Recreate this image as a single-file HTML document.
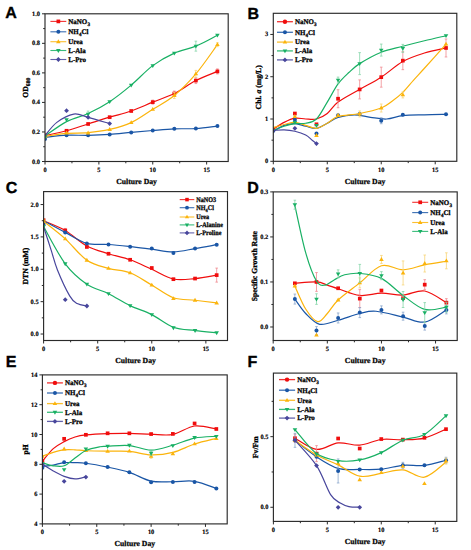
<!DOCTYPE html><html><head><meta charset="utf-8"><style>html,body{margin:0;padding:0;background:#fff;}svg{display:block;}text{text-rendering:geometricPrecision;}#w{width:471px;height:550px;overflow:hidden;}</style></head><body><div id="w">
<svg width="471" height="550" viewBox="0 0 471 550">
<rect width="471" height="550" fill="#fff"/>
<defs>
<clipPath id="cA"><rect x="45" y="13.8" width="183.2" height="147.7"/></clipPath>
<clipPath id="cB"><rect x="273.3" y="13.3" width="183.5" height="148"/></clipPath>
<clipPath id="cC"><rect x="43.6" y="191.6" width="183.9" height="148.9"/></clipPath>
<clipPath id="cD"><rect x="273.2" y="191.9" width="184" height="148.6"/></clipPath>
<clipPath id="cE"><rect x="42.4" y="374.9" width="184.8" height="149"/></clipPath>
<clipPath id="cF"><rect x="273.4" y="373.1" width="183.4" height="148.3"/></clipPath>
</defs>
<g clip-path="url(#cA)">
<path d="M45 135.65C48.59 134.84 59.37 132.72 66.55 130.78C73.74 128.83 80.92 126.25 88.11 123.98C95.29 121.72 102.47 119.36 109.66 117.19C116.84 115.02 124.03 113.5 131.21 110.99C138.4 108.48 145.58 105.03 152.76 102.12C159.95 99.22 167.13 97.15 174.32 93.56C181.5 89.96 188.69 84.25 195.87 80.56C203.05 76.87 213.83 72.93 217.42 71.4" fill="none" stroke="#f00d0d" stroke-width="1.2"/>
<path d="M152.76 100.12V104.12M151.46 100.12H154.06M151.46 104.12H154.06" stroke="#f08a90" stroke-width="0.8" fill="none"/>
<path d="M174.32 91.06V96.06M173.02 91.06H175.62M173.02 96.06H175.62" stroke="#f08a90" stroke-width="0.8" fill="none"/>
<path d="M195.87 77.56V83.56M194.57 77.56H197.17M194.57 83.56H197.17" stroke="#f08a90" stroke-width="0.8" fill="none"/>
<path d="M217.42 68.9V73.9M216.12 68.9H218.72M216.12 73.9H218.72" stroke="#f08a90" stroke-width="0.8" fill="none"/>
<rect x="43.15" y="133.36" width="3.7" height="3.7" fill="#f00d0d"/>
<rect x="64.7" y="128.93" width="3.7" height="3.7" fill="#f00d0d"/>
<rect x="86.26" y="122.13" width="3.7" height="3.7" fill="#f00d0d"/>
<rect x="107.81" y="115.34" width="3.7" height="3.7" fill="#f00d0d"/>
<rect x="129.36" y="109.14" width="3.7" height="3.7" fill="#f00d0d"/>
<rect x="150.91" y="100.27" width="3.7" height="3.7" fill="#f00d0d"/>
<rect x="172.47" y="91.71" width="3.7" height="3.7" fill="#f00d0d"/>
<rect x="194.02" y="78.71" width="3.7" height="3.7" fill="#f00d0d"/>
<rect x="215.57" y="69.55" width="3.7" height="3.7" fill="#f00d0d"/>
<path d="M45 137.42C48.59 137.06 59.37 135.55 66.55 135.21C73.74 134.86 80.92 135.48 88.11 135.36C95.29 135.23 102.47 134.96 109.66 134.47C116.84 133.98 124.03 133.07 131.21 132.4C138.4 131.74 145.58 131.07 152.76 130.48C159.95 129.89 167.13 129.18 174.32 128.86C181.5 128.54 188.69 129.03 195.87 128.56C203.05 128.1 213.83 126.47 217.42 126.05" fill="none" stroke="#1a56a6" stroke-width="1.2"/>
<circle cx="45" cy="138.9" r="2" fill="#1a56a6"/>
<circle cx="66.55" cy="135.21" r="2" fill="#1a56a6"/>
<circle cx="88.11" cy="135.36" r="2" fill="#1a56a6"/>
<circle cx="109.66" cy="134.47" r="2" fill="#1a56a6"/>
<circle cx="131.21" cy="132.4" r="2" fill="#1a56a6"/>
<circle cx="152.76" cy="130.48" r="2" fill="#1a56a6"/>
<circle cx="174.32" cy="128.86" r="2" fill="#1a56a6"/>
<circle cx="195.87" cy="128.56" r="2" fill="#1a56a6"/>
<circle cx="217.42" cy="126.05" r="2" fill="#1a56a6"/>
<path d="M45 136.39C48.59 135.9 59.37 134.05 66.55 133.44C73.74 132.82 80.92 133.36 88.11 132.7C95.29 132.03 102.47 131.12 109.66 129.45C116.84 127.78 124.03 126 131.21 122.65C138.4 119.31 145.58 113.89 152.76 109.36C159.95 104.83 167.13 101.39 174.32 95.48C181.5 89.57 188.69 82.38 195.87 73.91C203.05 65.45 213.83 49.54 217.42 44.67" fill="none" stroke="#fbb40c" stroke-width="1.2"/>
<path d="M174.32 92.48V98.48M173.02 92.48H175.62M173.02 98.48H175.62" stroke="#f7d67a" stroke-width="0.8" fill="none"/>
<path d="M195.87 70.41V77.41M194.57 70.41H197.17M194.57 77.41H197.17" stroke="#f7d67a" stroke-width="0.8" fill="none"/>
<path d="M217.42 42.67V46.67M216.12 42.67H218.72M216.12 46.67H218.72" stroke="#f7d67a" stroke-width="0.8" fill="none"/>
<path d="M45 133.99L47.28 137.83L42.72 137.83Z" fill="#fbb40c"/>
<path d="M66.55 130.59L68.83 134.43L64.27 134.43Z" fill="#fbb40c"/>
<path d="M88.11 130.59L90.39 134.43L85.83 134.43Z" fill="#fbb40c"/>
<path d="M109.66 127.05L111.94 130.89L107.38 130.89Z" fill="#fbb40c"/>
<path d="M131.21 120.25L133.49 124.09L128.93 124.09Z" fill="#fbb40c"/>
<path d="M152.76 106.96L155.04 110.8L150.48 110.8Z" fill="#fbb40c"/>
<path d="M174.32 93.08L176.6 96.92L172.04 96.92Z" fill="#fbb40c"/>
<path d="M195.87 71.51L198.15 75.35L193.59 75.35Z" fill="#fbb40c"/>
<path d="M217.42 42.27L219.7 46.11L215.14 46.11Z" fill="#fbb40c"/>
<path d="M45 135.95C48.59 133.56 59.37 125.36 66.55 121.62C73.74 117.88 80.92 116.82 88.11 113.5C95.29 110.17 102.47 106.41 109.66 101.68C116.84 96.96 124.03 91.15 131.21 85.14C138.4 79.13 145.58 70.98 152.76 65.64C159.95 60.3 167.13 56.34 174.32 53.09C181.5 49.84 188.69 49.12 195.87 46.15C203.05 43.17 213.83 37.04 217.42 35.22" fill="none" stroke="#19b064" stroke-width="1.2"/>
<path d="M88.11 111.09V117.09M86.81 111.09H89.41M86.81 117.09H89.41" stroke="#86d6aa" stroke-width="0.8" fill="none"/>
<path d="M195.87 41.15V51.15M194.57 41.15H197.17M194.57 51.15H197.17" stroke="#86d6aa" stroke-width="0.8" fill="none"/>
<path d="M45 139.53L47.28 135.69L42.72 135.69Z" fill="#19b064"/>
<path d="M66.55 122.1L68.83 118.26L64.27 118.26Z" fill="#19b064"/>
<path d="M88.11 116.49L90.39 112.65L85.83 112.65Z" fill="#19b064"/>
<path d="M109.66 104.08L111.94 100.24L107.38 100.24Z" fill="#19b064"/>
<path d="M131.21 87.54L133.49 83.7L128.93 83.7Z" fill="#19b064"/>
<path d="M152.76 68.04L155.04 64.2L150.48 64.2Z" fill="#19b064"/>
<path d="M174.32 55.49L176.6 51.65L172.04 51.65Z" fill="#19b064"/>
<path d="M195.87 48.55L198.15 44.71L193.59 44.71Z" fill="#19b064"/>
<path d="M217.42 37.62L219.7 33.78L215.14 33.78Z" fill="#19b064"/>
<path d="M45 135.65C46.98 133.44 52.06 125.95 56.85 122.36C61.65 118.77 68.56 114.93 73.77 114.09C78.98 113.25 82.12 115.76 88.11 117.34C94.09 118.91 106.07 122.51 109.66 123.54" fill="none" stroke="#48469c" stroke-width="1.2"/>
<path d="M66.55 108.29L68.95 110.69L66.55 113.09L64.15 110.69Z" fill="#48469c"/>
<path d="M88.11 114.94L90.51 117.34L88.11 119.74L85.71 117.34Z" fill="#48469c"/>
<path d="M109.66 121.14L112.06 123.54L109.66 125.94L107.26 123.54Z" fill="#48469c"/>
</g>
<rect x="45" y="13.8" width="183.2" height="147.7" fill="none" stroke="#2a2a2a" stroke-width="1.15"/>
<line x1="45" y1="161.5" x2="45" y2="164.5" stroke="#2a2a2a" stroke-width="1"/>
<text transform="translate(45 171.7) scale(0.97 1)" font-family='"Liberation Serif", serif' font-size="6.6" font-weight="bold" text-anchor="middle" stroke="#000" stroke-width="0.15" >0</text>
<line x1="98.88" y1="161.5" x2="98.88" y2="164.5" stroke="#2a2a2a" stroke-width="1"/>
<text transform="translate(98.88 171.7) scale(0.97 1)" font-family='"Liberation Serif", serif' font-size="6.6" font-weight="bold" text-anchor="middle" stroke="#000" stroke-width="0.15" >5</text>
<line x1="152.76" y1="161.5" x2="152.76" y2="164.5" stroke="#2a2a2a" stroke-width="1"/>
<text transform="translate(152.76 171.7) scale(0.97 1)" font-family='"Liberation Serif", serif' font-size="6.6" font-weight="bold" text-anchor="middle" stroke="#000" stroke-width="0.15" >10</text>
<line x1="206.65" y1="161.5" x2="206.65" y2="164.5" stroke="#2a2a2a" stroke-width="1"/>
<text transform="translate(206.65 171.7) scale(0.97 1)" font-family='"Liberation Serif", serif' font-size="6.6" font-weight="bold" text-anchor="middle" stroke="#000" stroke-width="0.15" >15</text>
<line x1="71.94" y1="161.5" x2="71.94" y2="163.3" stroke="#2a2a2a" stroke-width="1"/>
<line x1="125.82" y1="161.5" x2="125.82" y2="163.3" stroke="#2a2a2a" stroke-width="1"/>
<line x1="179.71" y1="161.5" x2="179.71" y2="163.3" stroke="#2a2a2a" stroke-width="1"/>
<line x1="42" y1="161.5" x2="45" y2="161.5" stroke="#2a2a2a" stroke-width="1"/>
<text transform="translate(40 163.5) scale(0.97 1)" font-family='"Liberation Serif", serif' font-size="6.6" font-weight="bold" text-anchor="end" stroke="#000" stroke-width="0.15" >0.0</text>
<line x1="42" y1="131.96" x2="45" y2="131.96" stroke="#2a2a2a" stroke-width="1"/>
<text transform="translate(40 133.96) scale(0.97 1)" font-family='"Liberation Serif", serif' font-size="6.6" font-weight="bold" text-anchor="end" stroke="#000" stroke-width="0.15" >0.2</text>
<line x1="42" y1="102.42" x2="45" y2="102.42" stroke="#2a2a2a" stroke-width="1"/>
<text transform="translate(40 104.42) scale(0.97 1)" font-family='"Liberation Serif", serif' font-size="6.6" font-weight="bold" text-anchor="end" stroke="#000" stroke-width="0.15" >0.4</text>
<line x1="42" y1="72.88" x2="45" y2="72.88" stroke="#2a2a2a" stroke-width="1"/>
<text transform="translate(40 74.88) scale(0.97 1)" font-family='"Liberation Serif", serif' font-size="6.6" font-weight="bold" text-anchor="end" stroke="#000" stroke-width="0.15" >0.6</text>
<line x1="42" y1="43.34" x2="45" y2="43.34" stroke="#2a2a2a" stroke-width="1"/>
<text transform="translate(40 45.34) scale(0.97 1)" font-family='"Liberation Serif", serif' font-size="6.6" font-weight="bold" text-anchor="end" stroke="#000" stroke-width="0.15" >0.8</text>
<line x1="42" y1="13.8" x2="45" y2="13.8" stroke="#2a2a2a" stroke-width="1"/>
<text transform="translate(40 15.8) scale(0.97 1)" font-family='"Liberation Serif", serif' font-size="6.6" font-weight="bold" text-anchor="end" stroke="#000" stroke-width="0.15" >1.0</text>
<line x1="43.2" y1="146.73" x2="45" y2="146.73" stroke="#2a2a2a" stroke-width="1"/>
<line x1="43.2" y1="117.19" x2="45" y2="117.19" stroke="#2a2a2a" stroke-width="1"/>
<line x1="43.2" y1="87.65" x2="45" y2="87.65" stroke="#2a2a2a" stroke-width="1"/>
<line x1="43.2" y1="58.11" x2="45" y2="58.11" stroke="#2a2a2a" stroke-width="1"/>
<line x1="43.2" y1="28.57" x2="45" y2="28.57" stroke="#2a2a2a" stroke-width="1"/>
<text x="136.6" y="183.8" font-family='"Liberation Serif", serif' font-size="7.7" font-weight="bold" text-anchor="middle" stroke="#000" stroke-width="0.25" >Culture Day</text>
<text x="5.2" y="17.8" font-family='"Liberation Sans", sans-serif' font-size="16.0" font-weight="bold" text-anchor="start" stroke="#000" stroke-width="0.35" >A</text>
<text transform="translate(28.3 87.7) rotate(-90)" font-family='"Liberation Serif", serif' font-size="7.7" font-weight="bold" stroke="#000" stroke-width="0.3" text-anchor="middle">OD<tspan font-size="5.6" dy="2.0">680</tspan></text>
<line x1="50.4" y1="21.4" x2="66.3" y2="21.4" stroke="#f00d0d" stroke-width="1.1" stroke-opacity="0.85"/>
<rect x="56.5" y="19.55" width="3.7" height="3.7" fill="#f00d0d"/>
<text transform="translate(68.3 23.7) scale(0.98 1)" font-family='"Liberation Serif", serif' font-size="7.1" font-weight="bold" text-anchor="start" stroke="#000" stroke-width="0.28" >NaNO<tspan font-size="5.2" dx="0.2" dy="1.9">3</tspan></text>
<line x1="50.4" y1="31.8" x2="66.3" y2="31.8" stroke="#1a56a6" stroke-width="1.1" stroke-opacity="0.85"/>
<circle cx="58.35" cy="31.8" r="2" fill="#1a56a6"/>
<text transform="translate(68.3 34.1) scale(0.98 1)" font-family='"Liberation Serif", serif' font-size="7.1" font-weight="bold" text-anchor="start" stroke="#000" stroke-width="0.28" >NH<tspan font-size="5.2" dx="0.2" dy="1.9">4</tspan><tspan dy="-1.9">Cl</tspan></text>
<line x1="50.4" y1="41.7" x2="66.3" y2="41.7" stroke="#fbb40c" stroke-width="1.1" stroke-opacity="0.85"/>
<path d="M58.35 39.3L60.63 43.14L56.07 43.14Z" fill="#fbb40c"/>
<text transform="translate(68.3 44) scale(0.98 1)" font-family='"Liberation Serif", serif' font-size="7.1" font-weight="bold" text-anchor="start" stroke="#000" stroke-width="0.28" >Urea</text>
<line x1="50.4" y1="50.5" x2="66.3" y2="50.5" stroke="#19b064" stroke-width="1.1" stroke-opacity="0.85"/>
<path d="M58.35 52.9L60.63 49.06L56.07 49.06Z" fill="#19b064"/>
<text transform="translate(68.3 52.8) scale(0.98 1)" font-family='"Liberation Serif", serif' font-size="7.1" font-weight="bold" text-anchor="start" stroke="#000" stroke-width="0.28" >L-Ala</text>
<line x1="50.4" y1="59.5" x2="66.3" y2="59.5" stroke="#48469c" stroke-width="1.1" stroke-opacity="0.85"/>
<path d="M58.35 57.1L60.75 59.5L58.35 61.9L55.95 59.5Z" fill="#48469c"/>
<text transform="translate(68.3 61.8) scale(0.98 1)" font-family='"Liberation Serif", serif' font-size="7.1" font-weight="bold" text-anchor="start" stroke="#000" stroke-width="0.28" >L-Pro</text>
<g clip-path="url(#cB)">
<path d="M273.3 129.16C275.1 128.04 280.5 124.23 284.09 122.4C287.69 120.56 291.29 118.73 294.89 118.17C298.49 117.6 302.08 118.87 305.68 119.01C309.28 119.16 312.88 119.93 316.48 119.01C320.07 118.1 323.67 116.34 327.27 113.52C330.87 110.7 332.67 106.12 338.06 102.1C343.46 98.08 352.46 93.57 359.65 89.41C366.85 85.26 374.05 81.8 381.24 77.15C388.44 72.5 395.63 65.52 402.83 61.51C410.03 57.49 417.22 55.3 424.42 53.05C431.61 50.79 442.41 48.82 446.01 47.97" fill="none" stroke="#f00d0d" stroke-width="1.2"/>
<path d="M338.06 89.72V107.72M336.76 89.72H339.36M336.76 107.72H339.36" stroke="#f08a90" stroke-width="0.8" fill="none"/>
<path d="M359.65 79.91V98.91M358.35 79.91H360.95M358.35 98.91H360.95" stroke="#f08a90" stroke-width="0.8" fill="none"/>
<path d="M381.24 67.15V87.15M379.94 67.15H382.54M379.94 87.15H382.54" stroke="#f08a90" stroke-width="0.8" fill="none"/>
<path d="M402.83 51.66V69.66M401.53 51.66H404.13M401.53 69.66H404.13" stroke="#f08a90" stroke-width="0.8" fill="none"/>
<path d="M446.01 38.97V56.97M444.71 38.97H447.31M444.71 56.97H447.31" stroke="#f08a90" stroke-width="0.8" fill="none"/>
<rect x="271.45" y="127.31" width="3.7" height="3.7" fill="#f00d0d"/>
<rect x="293.04" y="111.67" width="3.7" height="3.7" fill="#f00d0d"/>
<rect x="314.63" y="122.45" width="3.7" height="3.7" fill="#f00d0d"/>
<rect x="336.21" y="96.87" width="3.7" height="3.7" fill="#f00d0d"/>
<rect x="357.8" y="87.56" width="3.7" height="3.7" fill="#f00d0d"/>
<rect x="379.39" y="75.3" width="3.7" height="3.7" fill="#f00d0d"/>
<rect x="400.98" y="58.81" width="3.7" height="3.7" fill="#f00d0d"/>
<rect x="444.16" y="46.12" width="3.7" height="3.7" fill="#f00d0d"/>
<path d="M273.3 131.28C275.1 130.29 280.5 126.63 284.09 125.36C287.69 124.09 291.29 123.52 294.89 123.67C298.49 123.81 302.08 125.43 305.68 126.2C309.28 126.98 312.88 128.81 316.48 128.32C320.07 127.82 323.67 125.08 327.27 123.24C330.87 121.41 333.57 118.73 338.06 117.32C342.56 115.91 348.86 114.79 354.26 114.79C359.65 114.79 365.05 116.62 370.45 117.32C375.84 118.03 381.24 119.3 386.64 119.01C392.04 118.73 396.53 116.34 402.83 115.63C409.13 114.93 417.22 115 424.42 114.79C431.61 114.57 442.41 114.43 446.01 114.36" fill="none" stroke="#1a56a6" stroke-width="1.2"/>
<path d="M381.24 117.71V123.71M379.94 117.71H382.54M379.94 123.71H382.54" stroke="#8aa6cc" stroke-width="0.8" fill="none"/>
<circle cx="273.3" cy="130.85" r="2" fill="#1a56a6"/>
<circle cx="294.89" cy="119.86" r="2" fill="#1a56a6"/>
<circle cx="316.48" cy="133.39" r="2" fill="#1a56a6"/>
<circle cx="338.06" cy="115.21" r="2" fill="#1a56a6"/>
<circle cx="359.65" cy="113.94" r="2" fill="#1a56a6"/>
<circle cx="381.24" cy="120.71" r="2" fill="#1a56a6"/>
<circle cx="402.83" cy="114.79" r="2" fill="#1a56a6"/>
<circle cx="446.01" cy="114.36" r="2" fill="#1a56a6"/>
<path d="M273.3 127.47C275.1 126.98 280.5 125.36 284.09 124.51C287.69 123.67 291.29 122.26 294.89 122.4C298.49 122.54 302.08 124.37 305.68 125.36C309.28 126.34 312.88 128.67 316.48 128.32C320.07 127.96 323.67 125.22 327.27 123.24C330.87 121.27 332.67 118.1 338.06 116.48C343.46 114.86 352.46 114.93 359.65 113.52C366.85 112.11 375.84 110.06 381.24 108.02C386.64 105.98 388.44 103.86 392.04 101.25C395.63 98.65 399.23 95.9 402.83 92.37C406.43 88.85 410.03 84.13 413.62 80.11C417.22 76.09 419.02 74.26 424.42 68.27C429.81 62.28 442.41 48.19 446.01 44.17" fill="none" stroke="#fbb40c" stroke-width="1.2"/>
<path d="M359.65 110.94V116.94M358.35 110.94H360.95M358.35 116.94H360.95" stroke="#f7d67a" stroke-width="0.8" fill="none"/>
<path d="M381.24 104.02V112.02M379.94 104.02H382.54M379.94 112.02H382.54" stroke="#f7d67a" stroke-width="0.8" fill="none"/>
<path d="M402.83 91.91V97.91M401.53 91.91H404.13M401.53 97.91H404.13" stroke="#f7d67a" stroke-width="0.8" fill="none"/>
<path d="M273.3 127.19L275.58 131.03L271.02 131.03Z" fill="#fbb40c"/>
<path d="M294.89 114.08L297.17 117.92L292.61 117.92Z" fill="#fbb40c"/>
<path d="M316.48 133.11L318.76 136.95L314.2 136.95Z" fill="#fbb40c"/>
<path d="M338.06 112.81L340.34 116.65L335.78 116.65Z" fill="#fbb40c"/>
<path d="M359.65 111.54L361.93 115.38L357.37 115.38Z" fill="#fbb40c"/>
<path d="M381.24 105.62L383.52 109.46L378.96 109.46Z" fill="#fbb40c"/>
<path d="M402.83 92.51L405.11 96.35L400.55 96.35Z" fill="#fbb40c"/>
<path d="M446.01 41.77L448.29 45.61L443.73 45.61Z" fill="#fbb40c"/>
<path d="M273.3 130.43C275.1 129.73 280.5 127.33 284.09 126.2C287.69 125.08 291.29 124.16 294.89 123.67C298.49 123.17 302.08 124.02 305.68 123.24C309.28 122.47 312.88 122.54 316.48 119.01C320.07 115.49 323.67 107.95 327.27 102.1C330.87 96.25 334.47 88.85 338.06 83.92C341.66 78.98 345.26 75.88 348.86 72.5C352.46 69.12 354.26 67 359.65 63.62C365.05 60.24 374.05 55.09 381.24 52.2C388.44 49.31 395.63 48.19 402.83 46.28C410.03 44.38 417.22 42.55 424.42 40.79C431.61 39.02 442.41 36.56 446.01 35.71" fill="none" stroke="#19b064" stroke-width="1.2"/>
<path d="M338.06 77.11V83.11M336.76 77.11H339.36M336.76 83.11H339.36" stroke="#86d6aa" stroke-width="0.8" fill="none"/>
<path d="M359.65 52.62V74.62M358.35 52.62H360.95M358.35 74.62H360.95" stroke="#86d6aa" stroke-width="0.8" fill="none"/>
<path d="M381.24 44.09V56.09M379.94 44.09H382.54M379.94 56.09H382.54" stroke="#86d6aa" stroke-width="0.8" fill="none"/>
<path d="M402.83 44.4V52.4M401.53 44.4H404.13M401.53 52.4H404.13" stroke="#86d6aa" stroke-width="0.8" fill="none"/>
<path d="M273.3 133.25L275.58 129.41L271.02 129.41Z" fill="#19b064"/>
<path d="M294.89 124.8L297.17 120.96L292.61 120.96Z" fill="#19b064"/>
<path d="M316.48 127.76L318.76 123.92L314.2 123.92Z" fill="#19b064"/>
<path d="M338.06 82.51L340.34 78.67L335.78 78.67Z" fill="#19b064"/>
<path d="M359.65 66.02L361.93 62.18L357.37 62.18Z" fill="#19b064"/>
<path d="M381.24 52.49L383.52 48.65L378.96 48.65Z" fill="#19b064"/>
<path d="M402.83 50.8L405.11 46.96L400.55 46.96Z" fill="#19b064"/>
<path d="M446.01 38.11L448.29 34.27L443.73 34.27Z" fill="#19b064"/>
<path d="M273.3 130.43C275.1 130.33 280.5 129.66 284.09 129.8C287.69 129.94 291.29 130.4 294.89 131.28C298.49 132.16 302.8 133.6 305.68 135.08C308.56 136.56 310.36 138.75 312.16 140.16C313.96 141.57 315.76 142.98 316.48 143.54" fill="none" stroke="#48469c" stroke-width="1.2"/>
<path d="M273.3 128.45L275.7 130.85L273.3 133.25L270.9 130.85Z" fill="#48469c"/>
<path d="M294.89 125.92L297.29 128.32L294.89 130.72L292.49 128.32Z" fill="#48469c"/>
<path d="M316.48 141.14L318.88 143.54L316.48 145.94L314.08 143.54Z" fill="#48469c"/>
</g>
<rect x="273.3" y="13.3" width="183.5" height="148" fill="none" stroke="#2a2a2a" stroke-width="1.15"/>
<line x1="273.3" y1="161.3" x2="273.3" y2="164.3" stroke="#2a2a2a" stroke-width="1"/>
<text transform="translate(273.3 171.5) scale(0.97 1)" font-family='"Liberation Serif", serif' font-size="6.6" font-weight="bold" text-anchor="middle" stroke="#000" stroke-width="0.15" >0</text>
<line x1="327.27" y1="161.3" x2="327.27" y2="164.3" stroke="#2a2a2a" stroke-width="1"/>
<text transform="translate(327.27 171.5) scale(0.97 1)" font-family='"Liberation Serif", serif' font-size="6.6" font-weight="bold" text-anchor="middle" stroke="#000" stroke-width="0.15" >5</text>
<line x1="381.24" y1="161.3" x2="381.24" y2="164.3" stroke="#2a2a2a" stroke-width="1"/>
<text transform="translate(381.24 171.5) scale(0.97 1)" font-family='"Liberation Serif", serif' font-size="6.6" font-weight="bold" text-anchor="middle" stroke="#000" stroke-width="0.15" >10</text>
<line x1="435.21" y1="161.3" x2="435.21" y2="164.3" stroke="#2a2a2a" stroke-width="1"/>
<text transform="translate(435.21 171.5) scale(0.97 1)" font-family='"Liberation Serif", serif' font-size="6.6" font-weight="bold" text-anchor="middle" stroke="#000" stroke-width="0.15" >15</text>
<line x1="300.29" y1="161.3" x2="300.29" y2="163.1" stroke="#2a2a2a" stroke-width="1"/>
<line x1="354.26" y1="161.3" x2="354.26" y2="163.1" stroke="#2a2a2a" stroke-width="1"/>
<line x1="408.23" y1="161.3" x2="408.23" y2="163.1" stroke="#2a2a2a" stroke-width="1"/>
<line x1="270.3" y1="161.3" x2="273.3" y2="161.3" stroke="#2a2a2a" stroke-width="1"/>
<text transform="translate(268.3 163.3) scale(0.97 1)" font-family='"Liberation Serif", serif' font-size="6.6" font-weight="bold" text-anchor="end" stroke="#000" stroke-width="0.15" >0</text>
<line x1="270.3" y1="119.01" x2="273.3" y2="119.01" stroke="#2a2a2a" stroke-width="1"/>
<text transform="translate(268.3 121.01) scale(0.97 1)" font-family='"Liberation Serif", serif' font-size="6.6" font-weight="bold" text-anchor="end" stroke="#000" stroke-width="0.15" >1</text>
<line x1="270.3" y1="76.73" x2="273.3" y2="76.73" stroke="#2a2a2a" stroke-width="1"/>
<text transform="translate(268.3 78.73) scale(0.97 1)" font-family='"Liberation Serif", serif' font-size="6.6" font-weight="bold" text-anchor="end" stroke="#000" stroke-width="0.15" >2</text>
<line x1="270.3" y1="34.44" x2="273.3" y2="34.44" stroke="#2a2a2a" stroke-width="1"/>
<text transform="translate(268.3 36.44) scale(0.97 1)" font-family='"Liberation Serif", serif' font-size="6.6" font-weight="bold" text-anchor="end" stroke="#000" stroke-width="0.15" >3</text>
<line x1="271.5" y1="140.16" x2="273.3" y2="140.16" stroke="#2a2a2a" stroke-width="1"/>
<line x1="271.5" y1="97.87" x2="273.3" y2="97.87" stroke="#2a2a2a" stroke-width="1"/>
<line x1="271.5" y1="55.59" x2="273.3" y2="55.59" stroke="#2a2a2a" stroke-width="1"/>
<text x="365.05" y="183.6" font-family='"Liberation Serif", serif' font-size="7.7" font-weight="bold" text-anchor="middle" stroke="#000" stroke-width="0.25" >Culture Day</text>
<text transform="translate(261.2 87.3) rotate(-90)" font-family='"Liberation Serif", serif' font-size="7.7" font-weight="bold" stroke="#000" stroke-width="0.3" text-anchor="middle">Chl. <tspan font-style="italic">a</tspan> (mg/L)</text>
<text x="247.6" y="18.9" font-family='"Liberation Sans", sans-serif' font-size="16.0" font-weight="bold" text-anchor="start" stroke="#000" stroke-width="0.35" >B</text>
<line x1="277" y1="21.7" x2="292.9" y2="21.7" stroke="#f00d0d" stroke-width="1.3" stroke-opacity="0.85"/>
<circle cx="284.95" cy="21.7" r="2.2" fill="#f00d0d"/>
<text transform="translate(294.9 24) scale(0.98 1)" font-family='"Liberation Serif", serif' font-size="7.1" font-weight="bold" text-anchor="start" stroke="#000" stroke-width="0.28" >NaNO<tspan font-size="5.2" dx="0.2" dy="1.9">3</tspan></text>
<line x1="277" y1="32.3" x2="292.9" y2="32.3" stroke="#1a56a6" stroke-width="1.3" stroke-opacity="0.85"/>
<circle cx="284.95" cy="32.3" r="2" fill="#1a56a6"/>
<text transform="translate(294.9 34.6) scale(0.98 1)" font-family='"Liberation Serif", serif' font-size="7.1" font-weight="bold" text-anchor="start" stroke="#000" stroke-width="0.28" >NH<tspan font-size="5.2" dx="0.2" dy="1.9">4</tspan><tspan dy="-1.9">Cl</tspan></text>
<line x1="277" y1="42.1" x2="292.9" y2="42.1" stroke="#fbb40c" stroke-width="1.3" stroke-opacity="0.85"/>
<path d="M284.95 39.7L287.23 43.54L282.67 43.54Z" fill="#fbb40c"/>
<text transform="translate(294.9 44.4) scale(0.98 1)" font-family='"Liberation Serif", serif' font-size="7.1" font-weight="bold" text-anchor="start" stroke="#000" stroke-width="0.28" >Urea</text>
<line x1="277" y1="50.9" x2="292.9" y2="50.9" stroke="#19b064" stroke-width="1.3" stroke-opacity="0.85"/>
<path d="M284.95 53.3L287.23 49.46L282.67 49.46Z" fill="#19b064"/>
<text transform="translate(294.9 53.2) scale(0.98 1)" font-family='"Liberation Serif", serif' font-size="7.1" font-weight="bold" text-anchor="start" stroke="#000" stroke-width="0.28" >L-Ala</text>
<line x1="277" y1="59.9" x2="292.9" y2="59.9" stroke="#48469c" stroke-width="1.3" stroke-opacity="0.85"/>
<path d="M284.95 57.5L287.35 59.9L284.95 62.3L282.55 59.9Z" fill="#48469c"/>
<text transform="translate(294.9 62.2) scale(0.98 1)" font-family='"Liberation Serif", serif' font-size="7.1" font-weight="bold" text-anchor="start" stroke="#000" stroke-width="0.28" >L-Pro</text>
<g clip-path="url(#cC)">
<path d="M43.6 220.73C47.21 222.35 58.02 226.24 65.24 230.44C72.45 234.65 79.66 242.1 86.87 245.98C94.08 249.87 101.29 251.45 108.51 253.75C115.72 256.05 122.93 257.18 130.14 259.77C137.35 262.36 144.56 266.08 151.78 269.29C158.99 272.49 166.2 277.45 173.41 279C180.62 280.54 187.84 279.19 195.05 278.54C202.26 277.9 213.08 275.69 216.68 275.11" fill="none" stroke="#f00d0d" stroke-width="1.2"/>
<path d="M65.24 228.44V232.44M63.94 228.44H66.54M63.94 232.44H66.54" stroke="#f08a90" stroke-width="0.8" fill="none"/>
<path d="M216.68 268.11V282.11M215.38 268.11H217.98M215.38 282.11H217.98" stroke="#f08a90" stroke-width="0.8" fill="none"/>
<rect x="41.75" y="218.36" width="3.7" height="3.7" fill="#f00d0d"/>
<rect x="63.39" y="228.59" width="3.7" height="3.7" fill="#f00d0d"/>
<rect x="85.02" y="245.1" width="3.7" height="3.7" fill="#f00d0d"/>
<rect x="106.66" y="251.9" width="3.7" height="3.7" fill="#f00d0d"/>
<rect x="128.29" y="257.92" width="3.7" height="3.7" fill="#f00d0d"/>
<rect x="149.93" y="266.14" width="3.7" height="3.7" fill="#f00d0d"/>
<rect x="171.56" y="277.34" width="3.7" height="3.7" fill="#f00d0d"/>
<rect x="193.2" y="276.69" width="3.7" height="3.7" fill="#f00d0d"/>
<rect x="214.83" y="273.26" width="3.7" height="3.7" fill="#f00d0d"/>
<path d="M43.6 220.73C47.21 222.67 58.02 228.61 65.24 232.39C72.45 236.16 79.66 241.37 86.87 243.39C94.08 245.41 101.29 243.95 108.51 244.49C115.72 245.03 122.93 245.84 130.14 246.63C137.35 247.42 144.56 248.35 151.78 249.22C158.99 250.08 166.2 251.92 173.41 251.81C180.62 251.7 187.84 249.76 195.05 248.57C202.26 247.38 213.08 245.33 216.68 244.69" fill="none" stroke="#1a56a6" stroke-width="1.2"/>
<circle cx="43.6" cy="223.97" r="2" fill="#1a56a6"/>
<circle cx="65.24" cy="232.39" r="2" fill="#1a56a6"/>
<circle cx="86.87" cy="243.39" r="2" fill="#1a56a6"/>
<circle cx="108.51" cy="244.49" r="2" fill="#1a56a6"/>
<circle cx="130.14" cy="246.63" r="2" fill="#1a56a6"/>
<circle cx="151.78" cy="248.57" r="2" fill="#1a56a6"/>
<circle cx="173.41" cy="253.1" r="2" fill="#1a56a6"/>
<circle cx="195.05" cy="248.57" r="2" fill="#1a56a6"/>
<circle cx="216.68" cy="244.69" r="2" fill="#1a56a6"/>
<path d="M43.6 221.38C47.21 224.29 58.02 232.39 65.24 238.86C72.45 245.33 79.66 255.31 86.87 260.22C94.08 265.13 101.29 266.22 108.51 268.32C115.72 270.41 122.93 269.99 130.14 272.78C137.35 275.58 144.56 280.92 151.78 285.08C158.99 289.25 166.2 295.25 173.41 297.77C180.62 300.3 187.84 299.37 195.05 300.23C202.26 301.1 213.08 302.5 216.68 302.95" fill="none" stroke="#fbb40c" stroke-width="1.2"/>
<path d="M43.6 217.81L45.88 221.65L41.32 221.65Z" fill="#fbb40c"/>
<path d="M65.24 236.46L67.52 240.3L62.96 240.3Z" fill="#fbb40c"/>
<path d="M86.87 257.82L89.15 261.66L84.59 261.66Z" fill="#fbb40c"/>
<path d="M108.51 265.92L110.79 269.76L106.23 269.76Z" fill="#fbb40c"/>
<path d="M130.14 270.38L132.42 274.22L127.86 274.22Z" fill="#fbb40c"/>
<path d="M151.78 282.68L154.06 286.52L149.5 286.52Z" fill="#fbb40c"/>
<path d="M173.41 296.28L175.69 300.12L171.13 300.12Z" fill="#fbb40c"/>
<path d="M195.05 297.83L197.33 301.67L192.77 301.67Z" fill="#fbb40c"/>
<path d="M216.68 300.55L218.96 304.39L214.4 304.39Z" fill="#fbb40c"/>
<path d="M43.6 226.56C47.21 232.76 58.02 254.18 65.24 263.78C72.45 273.39 79.66 279.19 86.87 284.18C94.08 289.16 101.29 290.12 108.51 293.69C115.72 297.27 122.93 302.12 130.14 305.61C137.35 309.09 144.56 311 151.78 314.6C158.99 318.21 166.2 324.57 173.41 327.23C180.62 329.88 187.84 329.61 195.05 330.53C202.26 331.45 213.08 332.36 216.68 332.73" fill="none" stroke="#19b064" stroke-width="1.2"/>
<path d="M43.6 228.96L45.88 225.12L41.32 225.12Z" fill="#19b064"/>
<path d="M65.24 266.18L67.52 262.34L62.96 262.34Z" fill="#19b064"/>
<path d="M86.87 286.58L89.15 282.74L84.59 282.74Z" fill="#19b064"/>
<path d="M108.51 296.09L110.79 292.25L106.23 292.25Z" fill="#19b064"/>
<path d="M130.14 308.01L132.42 304.17L127.86 304.17Z" fill="#19b064"/>
<path d="M151.78 317L154.06 313.16L149.5 313.16Z" fill="#19b064"/>
<path d="M173.41 330.21L175.69 326.37L171.13 326.37Z" fill="#19b064"/>
<path d="M195.05 332.93L197.33 329.09L192.77 329.09Z" fill="#19b064"/>
<path d="M216.68 335.13L218.96 331.29L214.4 331.29Z" fill="#19b064"/>
<path d="M43.6 226.88C44.84 230.71 48.76 242.69 51.06 249.87C53.37 257.04 54.35 262.27 57.45 269.93C60.55 277.6 66.39 290.22 69.67 295.83C72.95 301.44 74.27 301.9 77.13 303.6C80 305.29 85.25 305.59 86.87 305.99" fill="none" stroke="#48469c" stroke-width="1.2"/>
<path d="M65.24 297.31L67.64 299.71L65.24 302.11L62.84 299.71Z" fill="#48469c"/>
<path d="M86.87 303.59L89.27 305.99L86.87 308.39L84.47 305.99Z" fill="#48469c"/>
</g>
<rect x="43.6" y="191.6" width="183.9" height="148.9" fill="none" stroke="#2a2a2a" stroke-width="1.15"/>
<line x1="43.6" y1="340.5" x2="43.6" y2="343.5" stroke="#2a2a2a" stroke-width="1"/>
<text transform="translate(43.6 350.7) scale(0.97 1)" font-family='"Liberation Serif", serif' font-size="6.6" font-weight="bold" text-anchor="middle" stroke="#000" stroke-width="0.15" >0</text>
<line x1="97.69" y1="340.5" x2="97.69" y2="343.5" stroke="#2a2a2a" stroke-width="1"/>
<text transform="translate(97.69 350.7) scale(0.97 1)" font-family='"Liberation Serif", serif' font-size="6.6" font-weight="bold" text-anchor="middle" stroke="#000" stroke-width="0.15" >5</text>
<line x1="151.78" y1="340.5" x2="151.78" y2="343.5" stroke="#2a2a2a" stroke-width="1"/>
<text transform="translate(151.78 350.7) scale(0.97 1)" font-family='"Liberation Serif", serif' font-size="6.6" font-weight="bold" text-anchor="middle" stroke="#000" stroke-width="0.15" >10</text>
<line x1="205.86" y1="340.5" x2="205.86" y2="343.5" stroke="#2a2a2a" stroke-width="1"/>
<text transform="translate(205.86 350.7) scale(0.97 1)" font-family='"Liberation Serif", serif' font-size="6.6" font-weight="bold" text-anchor="middle" stroke="#000" stroke-width="0.15" >15</text>
<line x1="70.64" y1="340.5" x2="70.64" y2="342.3" stroke="#2a2a2a" stroke-width="1"/>
<line x1="124.73" y1="340.5" x2="124.73" y2="342.3" stroke="#2a2a2a" stroke-width="1"/>
<line x1="178.82" y1="340.5" x2="178.82" y2="342.3" stroke="#2a2a2a" stroke-width="1"/>
<line x1="40.6" y1="334.03" x2="43.6" y2="334.03" stroke="#2a2a2a" stroke-width="1"/>
<text transform="translate(38.6 336.03) scale(0.97 1)" font-family='"Liberation Serif", serif' font-size="6.6" font-weight="bold" text-anchor="end" stroke="#000" stroke-width="0.15" >0.0</text>
<line x1="40.6" y1="301.66" x2="43.6" y2="301.66" stroke="#2a2a2a" stroke-width="1"/>
<text transform="translate(38.6 303.66) scale(0.97 1)" font-family='"Liberation Serif", serif' font-size="6.6" font-weight="bold" text-anchor="end" stroke="#000" stroke-width="0.15" >0.5</text>
<line x1="40.6" y1="269.29" x2="43.6" y2="269.29" stroke="#2a2a2a" stroke-width="1"/>
<text transform="translate(38.6 271.29) scale(0.97 1)" font-family='"Liberation Serif", serif' font-size="6.6" font-weight="bold" text-anchor="end" stroke="#000" stroke-width="0.15" >1.0</text>
<line x1="40.6" y1="236.92" x2="43.6" y2="236.92" stroke="#2a2a2a" stroke-width="1"/>
<text transform="translate(38.6 238.92) scale(0.97 1)" font-family='"Liberation Serif", serif' font-size="6.6" font-weight="bold" text-anchor="end" stroke="#000" stroke-width="0.15" >1.5</text>
<line x1="40.6" y1="204.55" x2="43.6" y2="204.55" stroke="#2a2a2a" stroke-width="1"/>
<text transform="translate(38.6 206.55) scale(0.97 1)" font-family='"Liberation Serif", serif' font-size="6.6" font-weight="bold" text-anchor="end" stroke="#000" stroke-width="0.15" >2.0</text>
<line x1="41.8" y1="317.84" x2="43.6" y2="317.84" stroke="#2a2a2a" stroke-width="1"/>
<line x1="41.8" y1="285.47" x2="43.6" y2="285.47" stroke="#2a2a2a" stroke-width="1"/>
<line x1="41.8" y1="253.1" x2="43.6" y2="253.1" stroke="#2a2a2a" stroke-width="1"/>
<line x1="41.8" y1="220.73" x2="43.6" y2="220.73" stroke="#2a2a2a" stroke-width="1"/>
<text x="135.55" y="362.8" font-family='"Liberation Serif", serif' font-size="7.7" font-weight="bold" text-anchor="middle" stroke="#000" stroke-width="0.25" >Culture Day</text>
<text transform="translate(28.2 266.05) rotate(-90)" font-family='"Liberation Serif", serif' font-size="7.7" font-weight="bold" stroke="#000" stroke-width="0.3" text-anchor="middle">DTN (mM)</text>
<text x="5.8" y="192.8" font-family='"Liberation Sans", sans-serif' font-size="16.0" font-weight="bold" text-anchor="start" stroke="#000" stroke-width="0.35" >C</text>
<line x1="179.7" y1="199.6" x2="194.3" y2="199.6" stroke="#f00d0d" stroke-width="1.1" stroke-opacity="0.85"/>
<rect x="185.24" y="197.84" width="3.52" height="3.52" fill="#f00d0d"/>
<text transform="translate(196.2 201.9) scale(0.88 1)" font-family='"Liberation Serif", serif' font-size="7.0" font-weight="bold" text-anchor="start" stroke="#000" stroke-width="0.28" >NaNO3</text>
<line x1="179.7" y1="207.7" x2="194.3" y2="207.7" stroke="#1a56a6" stroke-width="1.1" stroke-opacity="0.85"/>
<circle cx="187" cy="207.7" r="1.9" fill="#1a56a6"/>
<text transform="translate(196.2 210) scale(0.88 1)" font-family='"Liberation Serif", serif' font-size="7.0" font-weight="bold" text-anchor="start" stroke="#000" stroke-width="0.28" >NH<tspan font-size="5.0" dx="0.2" dy="1.7">4</tspan><tspan dy="-1.7">Cl</tspan></text>
<line x1="179.7" y1="217" x2="194.3" y2="217" stroke="#fbb40c" stroke-width="1.1" stroke-opacity="0.85"/>
<path d="M187 214.72L189.17 218.37L184.83 218.37Z" fill="#fbb40c"/>
<text transform="translate(196.2 219.3) scale(0.88 1)" font-family='"Liberation Serif", serif' font-size="7.0" font-weight="bold" text-anchor="start" stroke="#000" stroke-width="0.28" >Urea</text>
<line x1="179.7" y1="224.9" x2="194.3" y2="224.9" stroke="#19b064" stroke-width="1.1" stroke-opacity="0.85"/>
<path d="M187 227.18L189.17 223.53L184.83 223.53Z" fill="#19b064"/>
<text transform="translate(196.2 227.2) scale(0.88 1)" font-family='"Liberation Serif", serif' font-size="7.0" font-weight="bold" text-anchor="start" stroke="#000" stroke-width="0.28" >L-Alanine</text>
<line x1="179.7" y1="232.9" x2="194.3" y2="232.9" stroke="#48469c" stroke-width="1.1" stroke-opacity="0.85"/>
<path d="M187 230.62L189.28 232.9L187 235.18L184.72 232.9Z" fill="#48469c"/>
<text transform="translate(196.2 235.2) scale(0.88 1)" font-family='"Liberation Serif", serif' font-size="7.0" font-weight="bold" text-anchor="start" stroke="#000" stroke-width="0.28" >L-Proline</text>
<g clip-path="url(#cD)">
<path d="M294.85 283.31C298.45 283.09 311.08 281.66 316.49 281.96C321.91 282.26 323.71 283.99 327.32 285.11C330.93 286.24 332.73 286.99 338.14 288.72C343.55 290.44 352.57 294.72 359.79 295.47C367 296.22 374.22 293.29 381.44 293.22C388.65 293.14 395.87 295.39 403.08 295.02C410.3 294.64 417.51 289.69 424.73 290.97C431.95 292.24 442.77 300.72 446.38 302.67" fill="none" stroke="#f00d0d" stroke-width="1.2"/>
<path d="M316.49 272.56V291.36M315.19 272.56H317.79M315.19 291.36H317.79" stroke="#f08a90" stroke-width="0.8" fill="none"/>
<path d="M359.79 289.62V307.62M358.49 289.62H361.09M358.49 307.62H361.09" stroke="#f08a90" stroke-width="0.8" fill="none"/>
<path d="M424.73 279.66V289.66M423.43 279.66H426.03M423.43 289.66H426.03" stroke="#f08a90" stroke-width="0.8" fill="none"/>
<path d="M446.38 298.67V306.67M445.08 298.67H447.68M445.08 306.67H447.68" stroke="#f08a90" stroke-width="0.8" fill="none"/>
<rect x="293" y="281.46" width="3.7" height="3.7" fill="#f00d0d"/>
<rect x="314.64" y="280.11" width="3.7" height="3.7" fill="#f00d0d"/>
<rect x="336.29" y="286.41" width="3.7" height="3.7" fill="#f00d0d"/>
<rect x="357.94" y="296.77" width="3.7" height="3.7" fill="#f00d0d"/>
<rect x="379.59" y="288.67" width="3.7" height="3.7" fill="#f00d0d"/>
<rect x="401.23" y="296.32" width="3.7" height="3.7" fill="#f00d0d"/>
<rect x="422.88" y="282.81" width="3.7" height="3.7" fill="#f00d0d"/>
<rect x="444.53" y="300.82" width="3.7" height="3.7" fill="#f00d0d"/>
<path d="M294.85 299.07C296.65 301.47 301.52 309.28 305.67 313.48C309.82 317.68 314.33 323.16 319.74 324.29C325.15 325.41 331.47 322.04 338.14 320.24C344.82 318.44 353.47 314.98 359.79 313.48C366.1 311.98 368.81 310.63 376.02 311.23C383.24 311.83 394.96 315.28 403.08 317.08C411.2 318.89 417.51 323.24 424.73 322.04C431.95 320.84 442.77 311.91 446.38 309.88" fill="none" stroke="#1a56a6" stroke-width="1.2"/>
<path d="M294.85 294.07V304.07M293.55 294.07H296.15M293.55 304.07H296.15" stroke="#8aa6cc" stroke-width="0.8" fill="none"/>
<path d="M316.49 326.59V334.59M315.19 326.59H317.79M315.19 334.59H317.79" stroke="#8aa6cc" stroke-width="0.8" fill="none"/>
<path d="M338.14 312.98V322.98M336.84 312.98H339.44M336.84 322.98H339.44" stroke="#8aa6cc" stroke-width="0.8" fill="none"/>
<path d="M359.79 307.58V317.58M358.49 307.58H361.09M358.49 317.58H361.09" stroke="#8aa6cc" stroke-width="0.8" fill="none"/>
<path d="M381.44 305.88V313.88M380.14 305.88H382.74M380.14 313.88H382.74" stroke="#8aa6cc" stroke-width="0.8" fill="none"/>
<path d="M403.08 312.18V320.18M401.78 312.18H404.38M401.78 320.18H404.38" stroke="#8aa6cc" stroke-width="0.8" fill="none"/>
<path d="M424.73 322.09V330.09M423.43 322.09H426.03M423.43 330.09H426.03" stroke="#8aa6cc" stroke-width="0.8" fill="none"/>
<path d="M446.38 305.88V313.88M445.08 305.88H447.68M445.08 313.88H447.68" stroke="#8aa6cc" stroke-width="0.8" fill="none"/>
<circle cx="294.85" cy="299.07" r="2" fill="#1a56a6"/>
<circle cx="316.49" cy="330.59" r="2" fill="#1a56a6"/>
<circle cx="338.14" cy="317.98" r="2" fill="#1a56a6"/>
<circle cx="359.79" cy="312.58" r="2" fill="#1a56a6"/>
<circle cx="381.44" cy="309.88" r="2" fill="#1a56a6"/>
<circle cx="403.08" cy="316.18" r="2" fill="#1a56a6"/>
<circle cx="424.73" cy="326.09" r="2" fill="#1a56a6"/>
<circle cx="446.38" cy="309.88" r="2" fill="#1a56a6"/>
<path d="M294.85 286.01C296.65 289.84 301.88 303.05 305.67 308.98C309.46 314.91 313.97 320.84 317.58 321.59C321.18 322.34 323.89 317.08 327.32 313.48C330.75 309.88 332.73 305.08 338.14 299.97C343.55 294.87 352.57 288.57 359.79 282.86C367 277.16 374.22 267.93 381.44 265.75C388.65 263.57 395.87 269.95 403.08 269.8C410.3 269.65 417.51 266.28 424.73 264.85C431.95 263.42 442.77 261.85 446.38 261.25" fill="none" stroke="#fbb40c" stroke-width="1.2"/>
<path d="M359.79 277.86V287.86M358.49 277.86H361.09M358.49 287.86H361.09" stroke="#f7d67a" stroke-width="0.8" fill="none"/>
<path d="M381.44 255.45V263.45M380.14 255.45H382.74M380.14 263.45H382.74" stroke="#f7d67a" stroke-width="0.8" fill="none"/>
<path d="M403.08 260.95V284.95M401.78 260.95H404.38M401.78 284.95H404.38" stroke="#f7d67a" stroke-width="0.8" fill="none"/>
<path d="M424.73 255V272M423.43 255H426.03M423.43 272H426.03" stroke="#f7d67a" stroke-width="0.8" fill="none"/>
<path d="M446.38 252.8V268.8M445.08 252.8H447.68M445.08 268.8H447.68" stroke="#f7d67a" stroke-width="0.8" fill="none"/>
<path d="M294.85 283.61L297.13 287.45L292.57 287.45Z" fill="#fbb40c"/>
<path d="M316.49 332.7L318.77 336.54L314.21 336.54Z" fill="#fbb40c"/>
<path d="M338.14 297.57L340.42 301.41L335.86 301.41Z" fill="#fbb40c"/>
<path d="M359.79 280.46L362.07 284.3L357.51 284.3Z" fill="#fbb40c"/>
<path d="M381.44 257.05L383.72 260.89L379.16 260.89Z" fill="#fbb40c"/>
<path d="M403.08 270.55L405.36 274.39L400.8 274.39Z" fill="#fbb40c"/>
<path d="M424.73 261.1L427.01 264.94L422.45 264.94Z" fill="#fbb40c"/>
<path d="M446.38 258.4L448.66 262.24L444.1 262.24Z" fill="#fbb40c"/>
<path d="M294.85 205.41C296.65 213.29 302.06 240.08 305.67 252.69C309.28 265.3 313.25 275.66 316.49 281.06C319.74 286.46 322.16 285.34 325.15 285.11C328.15 284.89 331.21 281.44 334.46 279.71C337.71 277.98 340.41 275.81 344.64 274.76C348.86 273.71 353.65 272.8 359.79 273.4C365.92 274.01 374.22 274.68 381.44 278.36C388.65 282.04 395.87 290.29 403.08 295.47C410.3 300.65 417.51 307.48 424.73 309.43C431.95 311.38 442.77 307.55 446.38 307.18" fill="none" stroke="#19b064" stroke-width="1.2"/>
<path d="M294.85 200.19V209.19M293.55 200.19H296.15M293.55 209.19H296.15" stroke="#86d6aa" stroke-width="0.8" fill="none"/>
<path d="M316.49 293.77V304.37M315.19 293.77H317.79M315.19 304.37H317.79" stroke="#86d6aa" stroke-width="0.8" fill="none"/>
<path d="M338.14 269.86V277.86M336.84 269.86H339.44M336.84 277.86H339.44" stroke="#86d6aa" stroke-width="0.8" fill="none"/>
<path d="M359.79 264.4V282.4M358.49 264.4H361.09M358.49 282.4H361.09" stroke="#86d6aa" stroke-width="0.8" fill="none"/>
<path d="M381.44 271.66V279.66M380.14 271.66H382.74M380.14 279.66H382.74" stroke="#86d6aa" stroke-width="0.8" fill="none"/>
<path d="M403.08 291.52V307.52M401.78 291.52H404.38M401.78 307.52H404.38" stroke="#86d6aa" stroke-width="0.8" fill="none"/>
<path d="M424.73 302.58V322.58M423.43 302.58H426.03M423.43 322.58H426.03" stroke="#86d6aa" stroke-width="0.8" fill="none"/>
<path d="M446.38 302.18V312.18M445.08 302.18H447.68M445.08 312.18H447.68" stroke="#86d6aa" stroke-width="0.8" fill="none"/>
<path d="M294.85 207.09L297.13 203.25L292.57 203.25Z" fill="#19b064"/>
<path d="M316.49 301.47L318.77 297.63L314.21 297.63Z" fill="#19b064"/>
<path d="M338.14 276.26L340.42 272.42L335.86 272.42Z" fill="#19b064"/>
<path d="M359.79 275.8L362.07 271.96L357.51 271.96Z" fill="#19b064"/>
<path d="M381.44 278.06L383.72 274.22L379.16 274.22Z" fill="#19b064"/>
<path d="M403.08 301.92L405.36 298.08L400.8 298.08Z" fill="#19b064"/>
<path d="M424.73 314.98L427.01 311.14L422.45 311.14Z" fill="#19b064"/>
<path d="M446.38 309.58L448.66 305.74L444.1 305.74Z" fill="#19b064"/>
</g>
<rect x="273.2" y="191.9" width="184" height="148.6" fill="none" stroke="#2a2a2a" stroke-width="1.15"/>
<line x1="273.2" y1="340.5" x2="273.2" y2="343.5" stroke="#2a2a2a" stroke-width="1"/>
<text transform="translate(273.2 350.7) scale(0.97 1)" font-family='"Liberation Serif", serif' font-size="6.6" font-weight="bold" text-anchor="middle" stroke="#000" stroke-width="0.15" >0</text>
<line x1="327.32" y1="340.5" x2="327.32" y2="343.5" stroke="#2a2a2a" stroke-width="1"/>
<text transform="translate(327.32 350.7) scale(0.97 1)" font-family='"Liberation Serif", serif' font-size="6.6" font-weight="bold" text-anchor="middle" stroke="#000" stroke-width="0.15" >5</text>
<line x1="381.44" y1="340.5" x2="381.44" y2="343.5" stroke="#2a2a2a" stroke-width="1"/>
<text transform="translate(381.44 350.7) scale(0.97 1)" font-family='"Liberation Serif", serif' font-size="6.6" font-weight="bold" text-anchor="middle" stroke="#000" stroke-width="0.15" >10</text>
<line x1="435.55" y1="340.5" x2="435.55" y2="343.5" stroke="#2a2a2a" stroke-width="1"/>
<text transform="translate(435.55 350.7) scale(0.97 1)" font-family='"Liberation Serif", serif' font-size="6.6" font-weight="bold" text-anchor="middle" stroke="#000" stroke-width="0.15" >15</text>
<line x1="300.26" y1="340.5" x2="300.26" y2="342.3" stroke="#2a2a2a" stroke-width="1"/>
<line x1="354.38" y1="340.5" x2="354.38" y2="342.3" stroke="#2a2a2a" stroke-width="1"/>
<line x1="408.49" y1="340.5" x2="408.49" y2="342.3" stroke="#2a2a2a" stroke-width="1"/>
<line x1="270.2" y1="326.99" x2="273.2" y2="326.99" stroke="#2a2a2a" stroke-width="1"/>
<text transform="translate(268.2 328.99) scale(0.97 1)" font-family='"Liberation Serif", serif' font-size="6.6" font-weight="bold" text-anchor="end" stroke="#000" stroke-width="0.15" >0.0</text>
<line x1="270.2" y1="281.96" x2="273.2" y2="281.96" stroke="#2a2a2a" stroke-width="1"/>
<text transform="translate(268.2 283.96) scale(0.97 1)" font-family='"Liberation Serif", serif' font-size="6.6" font-weight="bold" text-anchor="end" stroke="#000" stroke-width="0.15" >0.1</text>
<line x1="270.2" y1="236.93" x2="273.2" y2="236.93" stroke="#2a2a2a" stroke-width="1"/>
<text transform="translate(268.2 238.93) scale(0.97 1)" font-family='"Liberation Serif", serif' font-size="6.6" font-weight="bold" text-anchor="end" stroke="#000" stroke-width="0.15" >0.2</text>
<line x1="270.2" y1="191.9" x2="273.2" y2="191.9" stroke="#2a2a2a" stroke-width="1"/>
<text transform="translate(268.2 193.9) scale(0.97 1)" font-family='"Liberation Serif", serif' font-size="6.6" font-weight="bold" text-anchor="end" stroke="#000" stroke-width="0.15" >0.3</text>
<line x1="271.4" y1="304.48" x2="273.2" y2="304.48" stroke="#2a2a2a" stroke-width="1"/>
<line x1="271.4" y1="259.45" x2="273.2" y2="259.45" stroke="#2a2a2a" stroke-width="1"/>
<line x1="271.4" y1="214.42" x2="273.2" y2="214.42" stroke="#2a2a2a" stroke-width="1"/>
<text x="365.2" y="362.8" font-family='"Liberation Serif", serif' font-size="7.7" font-weight="bold" text-anchor="middle" stroke="#000" stroke-width="0.25" >Culture Day</text>
<text transform="translate(257.2 266.2) rotate(-90)" font-family='"Liberation Serif", serif' font-size="7.7" font-weight="bold" stroke="#000" stroke-width="0.3" text-anchor="middle">Specific Growth Rate</text>
<text x="247.2" y="193.3" font-family='"Liberation Sans", sans-serif' font-size="16.0" font-weight="bold" text-anchor="start" stroke="#000" stroke-width="0.35" >D</text>
<line x1="412.2" y1="202.3" x2="428.2" y2="202.3" stroke="#f00d0d" stroke-width="1.1" stroke-opacity="0.85"/>
<rect x="418.35" y="200.45" width="3.7" height="3.7" fill="#f00d0d"/>
<text transform="translate(430.3 204.6) scale(0.98 1)" font-family='"Liberation Serif", serif' font-size="7.1" font-weight="bold" text-anchor="start" stroke="#000" stroke-width="0.28" >NaNO<tspan font-size="5.2" dx="0.2" dy="1.9">3</tspan></text>
<line x1="412.2" y1="212.6" x2="428.2" y2="212.6" stroke="#1a56a6" stroke-width="1.1" stroke-opacity="0.85"/>
<circle cx="420.2" cy="212.6" r="2" fill="#1a56a6"/>
<text transform="translate(430.3 214.9) scale(0.98 1)" font-family='"Liberation Serif", serif' font-size="7.1" font-weight="bold" text-anchor="start" stroke="#000" stroke-width="0.28" >NH<tspan font-size="5.2" dx="0.2" dy="1.9">4</tspan><tspan dy="-1.9">Cl</tspan></text>
<line x1="412.2" y1="222.5" x2="428.2" y2="222.5" stroke="#fbb40c" stroke-width="1.1" stroke-opacity="0.85"/>
<path d="M420.2 220.1L422.48 223.94L417.92 223.94Z" fill="#fbb40c"/>
<text transform="translate(430.3 224.8) scale(0.98 1)" font-family='"Liberation Serif", serif' font-size="7.1" font-weight="bold" text-anchor="start" stroke="#000" stroke-width="0.28" >Urea</text>
<line x1="412.2" y1="231.4" x2="428.2" y2="231.4" stroke="#19b064" stroke-width="1.1" stroke-opacity="0.85"/>
<path d="M420.2 233.8L422.48 229.96L417.92 229.96Z" fill="#19b064"/>
<text transform="translate(430.3 233.7) scale(0.98 1)" font-family='"Liberation Serif", serif' font-size="7.1" font-weight="bold" text-anchor="start" stroke="#000" stroke-width="0.28" >L-Ala</text>
<g clip-path="url(#cE)">
<path d="M42.4 461.32C44.21 459.21 49.65 451.93 53.27 448.65C56.89 445.38 60.52 443.59 64.14 441.65C67.76 439.71 71.39 438.15 75.01 437.03C78.64 435.92 80.45 435.52 85.88 434.95C91.32 434.38 100.38 433.88 107.62 433.61C114.87 433.33 122.12 433.21 129.36 433.31C136.61 433.41 143.86 434 151.11 434.2C158.35 434.4 165.6 435.87 172.85 434.5C180.09 433.13 187.34 426.93 194.59 426.01C201.84 425.09 212.71 428.49 216.33 428.99" fill="none" stroke="#f00d0d" stroke-width="1.2"/>
<rect x="40.55" y="459.02" width="3.7" height="3.7" fill="#f00d0d"/>
<rect x="62.29" y="436.97" width="3.7" height="3.7" fill="#f00d0d"/>
<rect x="84.03" y="432.95" width="3.7" height="3.7" fill="#f00d0d"/>
<rect x="105.77" y="431.46" width="3.7" height="3.7" fill="#f00d0d"/>
<rect x="127.51" y="431.46" width="3.7" height="3.7" fill="#f00d0d"/>
<rect x="149.26" y="432.2" width="3.7" height="3.7" fill="#f00d0d"/>
<rect x="171" y="432.05" width="3.7" height="3.7" fill="#f00d0d"/>
<rect x="192.74" y="421.62" width="3.7" height="3.7" fill="#f00d0d"/>
<rect x="214.48" y="427.14" width="3.7" height="3.7" fill="#f00d0d"/>
<path d="M42.4 466.39C44.21 466.16 49.65 465.67 53.27 465.04C56.89 464.42 60.52 463.06 64.14 462.66C67.76 462.26 71.39 462.56 75.01 462.66C78.64 462.76 80.45 462.51 85.88 463.26C91.32 464 100.38 465.62 107.62 467.13C114.87 468.65 122.12 470.01 129.36 472.35C136.61 474.68 143.86 479.57 151.11 481.14C158.35 482.7 165.6 481.71 172.85 481.73C180.09 481.76 187.34 480.17 194.59 481.29C201.84 482.4 212.71 487.25 216.33 488.44" fill="none" stroke="#1a56a6" stroke-width="1.2"/>
<circle cx="42.4" cy="467.73" r="2" fill="#1a56a6"/>
<circle cx="64.14" cy="462.36" r="2" fill="#1a56a6"/>
<circle cx="85.88" cy="463.26" r="2" fill="#1a56a6"/>
<circle cx="107.62" cy="466.98" r="2" fill="#1a56a6"/>
<circle cx="129.36" cy="472.2" r="2" fill="#1a56a6"/>
<circle cx="151.11" cy="482.33" r="2" fill="#1a56a6"/>
<circle cx="172.85" cy="482.03" r="2" fill="#1a56a6"/>
<circle cx="194.59" cy="482.03" r="2" fill="#1a56a6"/>
<circle cx="216.33" cy="488.44" r="2" fill="#1a56a6"/>
<path d="M42.4 456.25C44.21 455.61 49.65 453.45 53.27 452.38C56.89 451.31 60.52 450.27 64.14 449.85C67.76 449.42 71.39 449.7 75.01 449.85C78.64 450 80.45 450.52 85.88 450.74C91.32 450.96 100.38 451.09 107.62 451.19C114.87 451.29 122.12 450.72 129.36 451.34C136.61 451.96 143.86 454.74 151.11 454.91C158.35 455.09 165.6 454.19 172.85 452.38C180.09 450.57 187.34 446.37 194.59 444.04C201.84 441.7 212.71 439.32 216.33 438.37" fill="none" stroke="#fbb40c" stroke-width="1.2"/>
<path d="M151.11 454.25V458.25M149.81 454.25H152.41M149.81 458.25H152.41" stroke="#f7d67a" stroke-width="0.8" fill="none"/>
<path d="M42.4 453.85L44.68 457.69L40.12 457.69Z" fill="#fbb40c"/>
<path d="M64.14 446.55L66.42 450.39L61.86 450.39Z" fill="#fbb40c"/>
<path d="M85.88 448.04L88.16 451.88L83.6 451.88Z" fill="#fbb40c"/>
<path d="M107.62 448.94L109.9 452.78L105.34 452.78Z" fill="#fbb40c"/>
<path d="M129.36 448.64L131.64 452.48L127.08 452.48Z" fill="#fbb40c"/>
<path d="M151.11 453.85L153.39 457.69L148.83 457.69Z" fill="#fbb40c"/>
<path d="M172.85 451.47L175.13 455.31L170.57 455.31Z" fill="#fbb40c"/>
<path d="M194.59 441.49L196.87 445.33L192.31 445.33Z" fill="#fbb40c"/>
<path d="M216.33 436.27L218.61 440.11L214.05 440.11Z" fill="#fbb40c"/>
<path d="M42.4 462.66C44.21 463.18 49.65 465.27 53.27 465.79C56.89 466.31 60.52 467.08 64.14 465.79C67.76 464.5 71.39 460.6 75.01 458.04C78.64 455.48 81.72 452.33 85.88 450.44C90.05 448.56 96.39 447.41 100.01 446.72C103.64 446.02 102.73 446.47 107.62 446.27C112.52 446.07 122.12 444.88 129.36 445.53C136.61 446.17 143.86 450.19 151.11 450.14C158.35 450.1 165.6 447.24 172.85 445.23C180.09 443.22 187.34 439.57 194.59 438.08C201.84 436.59 212.71 436.59 216.33 436.29" fill="none" stroke="#19b064" stroke-width="1.2"/>
<path d="M151.11 451.27V455.27M149.81 451.27H152.41M149.81 455.27H152.41" stroke="#86d6aa" stroke-width="0.8" fill="none"/>
<path d="M42.4 466.7L44.68 462.86L40.12 462.86Z" fill="#19b064"/>
<path d="M64.14 472.06L66.42 468.22L61.86 468.22Z" fill="#19b064"/>
<path d="M85.88 451.35L88.16 447.51L83.6 447.51Z" fill="#19b064"/>
<path d="M107.62 448.67L109.9 444.83L105.34 444.83Z" fill="#19b064"/>
<path d="M129.36 447.63L131.64 443.79L127.08 443.79Z" fill="#19b064"/>
<path d="M151.11 455.67L153.39 451.83L148.83 451.83Z" fill="#19b064"/>
<path d="M172.85 448.07L175.13 444.23L170.57 444.23Z" fill="#19b064"/>
<path d="M194.59 439.88L196.87 436.04L192.31 436.04Z" fill="#19b064"/>
<path d="M216.33 438.84L218.61 435L214.05 435Z" fill="#19b064"/>
<path d="M42.4 464.3C44.21 465.42 49.65 468.99 53.27 471C56.89 473.02 60.52 475.05 64.14 476.37C67.76 477.69 71.39 478.83 75.01 478.9C78.64 478.98 84.07 477.16 85.88 476.82" fill="none" stroke="#48469c" stroke-width="1.2"/>
<path d="M42.4 462.2L44.8 464.6L42.4 467L40 464.6Z" fill="#48469c"/>
<path d="M64.14 478.89L66.54 481.29L64.14 483.69L61.74 481.29Z" fill="#48469c"/>
<path d="M85.88 474.71L88.28 477.11L85.88 479.51L83.48 477.11Z" fill="#48469c"/>
</g>
<rect x="42.4" y="374.9" width="184.8" height="149" fill="none" stroke="#2a2a2a" stroke-width="1.15"/>
<line x1="42.4" y1="523.9" x2="42.4" y2="526.9" stroke="#2a2a2a" stroke-width="1"/>
<text transform="translate(42.4 534.1) scale(0.97 1)" font-family='"Liberation Serif", serif' font-size="6.6" font-weight="bold" text-anchor="middle" stroke="#000" stroke-width="0.15" >0</text>
<line x1="96.75" y1="523.9" x2="96.75" y2="526.9" stroke="#2a2a2a" stroke-width="1"/>
<text transform="translate(96.75 534.1) scale(0.97 1)" font-family='"Liberation Serif", serif' font-size="6.6" font-weight="bold" text-anchor="middle" stroke="#000" stroke-width="0.15" >5</text>
<line x1="151.11" y1="523.9" x2="151.11" y2="526.9" stroke="#2a2a2a" stroke-width="1"/>
<text transform="translate(151.11 534.1) scale(0.97 1)" font-family='"Liberation Serif", serif' font-size="6.6" font-weight="bold" text-anchor="middle" stroke="#000" stroke-width="0.15" >10</text>
<line x1="205.46" y1="523.9" x2="205.46" y2="526.9" stroke="#2a2a2a" stroke-width="1"/>
<text transform="translate(205.46 534.1) scale(0.97 1)" font-family='"Liberation Serif", serif' font-size="6.6" font-weight="bold" text-anchor="middle" stroke="#000" stroke-width="0.15" >15</text>
<line x1="69.58" y1="523.9" x2="69.58" y2="525.7" stroke="#2a2a2a" stroke-width="1"/>
<line x1="123.93" y1="523.9" x2="123.93" y2="525.7" stroke="#2a2a2a" stroke-width="1"/>
<line x1="178.28" y1="523.9" x2="178.28" y2="525.7" stroke="#2a2a2a" stroke-width="1"/>
<line x1="39.4" y1="523.9" x2="42.4" y2="523.9" stroke="#2a2a2a" stroke-width="1"/>
<text transform="translate(37.4 525.9) scale(0.97 1)" font-family='"Liberation Serif", serif' font-size="6.6" font-weight="bold" text-anchor="end" stroke="#000" stroke-width="0.15" >4</text>
<line x1="39.4" y1="494.1" x2="42.4" y2="494.1" stroke="#2a2a2a" stroke-width="1"/>
<text transform="translate(37.4 496.1) scale(0.97 1)" font-family='"Liberation Serif", serif' font-size="6.6" font-weight="bold" text-anchor="end" stroke="#000" stroke-width="0.15" >6</text>
<line x1="39.4" y1="464.3" x2="42.4" y2="464.3" stroke="#2a2a2a" stroke-width="1"/>
<text transform="translate(37.4 466.3) scale(0.97 1)" font-family='"Liberation Serif", serif' font-size="6.6" font-weight="bold" text-anchor="end" stroke="#000" stroke-width="0.15" >8</text>
<line x1="39.4" y1="434.5" x2="42.4" y2="434.5" stroke="#2a2a2a" stroke-width="1"/>
<text transform="translate(37.4 436.5) scale(0.97 1)" font-family='"Liberation Serif", serif' font-size="6.6" font-weight="bold" text-anchor="end" stroke="#000" stroke-width="0.15" >10</text>
<line x1="39.4" y1="404.7" x2="42.4" y2="404.7" stroke="#2a2a2a" stroke-width="1"/>
<text transform="translate(37.4 406.7) scale(0.97 1)" font-family='"Liberation Serif", serif' font-size="6.6" font-weight="bold" text-anchor="end" stroke="#000" stroke-width="0.15" >12</text>
<line x1="39.4" y1="374.9" x2="42.4" y2="374.9" stroke="#2a2a2a" stroke-width="1"/>
<text transform="translate(37.4 376.9) scale(0.97 1)" font-family='"Liberation Serif", serif' font-size="6.6" font-weight="bold" text-anchor="end" stroke="#000" stroke-width="0.15" >14</text>
<line x1="40.6" y1="509" x2="42.4" y2="509" stroke="#2a2a2a" stroke-width="1"/>
<line x1="40.6" y1="479.2" x2="42.4" y2="479.2" stroke="#2a2a2a" stroke-width="1"/>
<line x1="40.6" y1="449.4" x2="42.4" y2="449.4" stroke="#2a2a2a" stroke-width="1"/>
<line x1="40.6" y1="419.6" x2="42.4" y2="419.6" stroke="#2a2a2a" stroke-width="1"/>
<line x1="40.6" y1="389.8" x2="42.4" y2="389.8" stroke="#2a2a2a" stroke-width="1"/>
<text x="134.8" y="546.2" font-family='"Liberation Serif", serif' font-size="7.7" font-weight="bold" text-anchor="middle" stroke="#000" stroke-width="0.25" >Culture Day</text>
<text transform="translate(28.1 449.4) rotate(-90)" font-family='"Liberation Serif", serif' font-size="7.7" font-weight="bold" stroke="#000" stroke-width="0.3" text-anchor="middle">pH</text>
<text x="5.8" y="367.2" font-family='"Liberation Sans", sans-serif' font-size="16.0" font-weight="bold" text-anchor="start" stroke="#000" stroke-width="0.35" >E</text>
<line x1="47" y1="382.9" x2="62.9" y2="382.9" stroke="#f00d0d" stroke-width="1.3" stroke-opacity="0.85"/>
<circle cx="54.95" cy="382.9" r="2.2" fill="#f00d0d"/>
<text transform="translate(64.9 385.2) scale(0.98 1)" font-family='"Liberation Serif", serif' font-size="7.1" font-weight="bold" text-anchor="start" stroke="#000" stroke-width="0.28" >NaNO<tspan font-size="5.2" dx="0.2" dy="1.9">3</tspan></text>
<line x1="47" y1="393" x2="62.9" y2="393" stroke="#1a56a6" stroke-width="1.3" stroke-opacity="0.85"/>
<circle cx="54.95" cy="393" r="2" fill="#1a56a6"/>
<text transform="translate(64.9 395.3) scale(0.98 1)" font-family='"Liberation Serif", serif' font-size="7.1" font-weight="bold" text-anchor="start" stroke="#000" stroke-width="0.28" >NH<tspan font-size="5.2" dx="0.2" dy="1.9">4</tspan><tspan dy="-1.9">Cl</tspan></text>
<line x1="47" y1="403.6" x2="62.9" y2="403.6" stroke="#fbb40c" stroke-width="1.3" stroke-opacity="0.85"/>
<path d="M54.95 401.2L57.23 405.04L52.67 405.04Z" fill="#fbb40c"/>
<text transform="translate(64.9 405.9) scale(0.98 1)" font-family='"Liberation Serif", serif' font-size="7.1" font-weight="bold" text-anchor="start" stroke="#000" stroke-width="0.28" >Urea</text>
<line x1="47" y1="412.3" x2="62.9" y2="412.3" stroke="#19b064" stroke-width="1.3" stroke-opacity="0.85"/>
<path d="M54.95 414.7L57.23 410.86L52.67 410.86Z" fill="#19b064"/>
<text transform="translate(64.9 414.6) scale(0.98 1)" font-family='"Liberation Serif", serif' font-size="7.1" font-weight="bold" text-anchor="start" stroke="#000" stroke-width="0.28" >L-Ala</text>
<line x1="47" y1="421.4" x2="62.9" y2="421.4" stroke="#48469c" stroke-width="1.3" stroke-opacity="0.85"/>
<path d="M54.95 419L57.35 421.4L54.95 423.8L52.55 421.4Z" fill="#48469c"/>
<text transform="translate(64.9 423.7) scale(0.98 1)" font-family='"Liberation Serif", serif' font-size="7.1" font-weight="bold" text-anchor="start" stroke="#000" stroke-width="0.28" >L-Pro</text>
<g clip-path="url(#cF)">
<path d="M294.98 438.21C298.57 440.07 309.36 448.59 316.55 449.37C323.75 450.15 330.94 443.58 338.13 442.87C345.32 442.17 352.51 445.7 359.71 445.13C366.9 444.57 374.09 440.38 381.28 439.48C388.47 438.59 395.67 440 402.86 439.76C410.05 439.53 417.24 439.84 424.44 438.07C431.63 436.3 442.42 430.65 446.01 429.17" fill="none" stroke="#f00d0d" stroke-width="1.2"/>
<path d="M294.98 434.21V442.21M293.68 434.21H296.28M293.68 442.21H296.28" stroke="#f08a90" stroke-width="0.8" fill="none"/>
<path d="M316.55 445.61V461.61M315.25 445.61H317.85M315.25 461.61H317.85" stroke="#f08a90" stroke-width="0.8" fill="none"/>
<rect x="293.13" y="436.36" width="3.7" height="3.7" fill="#f00d0d"/>
<rect x="314.7" y="451.76" width="3.7" height="3.7" fill="#f00d0d"/>
<rect x="336.28" y="436.64" width="3.7" height="3.7" fill="#f00d0d"/>
<rect x="357.86" y="446.67" width="3.7" height="3.7" fill="#f00d0d"/>
<rect x="379.43" y="437.21" width="3.7" height="3.7" fill="#f00d0d"/>
<rect x="401.01" y="437.77" width="3.7" height="3.7" fill="#f00d0d"/>
<rect x="422.59" y="435.94" width="3.7" height="3.7" fill="#f00d0d"/>
<rect x="444.16" y="427.32" width="3.7" height="3.7" fill="#f00d0d"/>
<path d="M294.98 440.33C298.57 443.08 309.36 452.17 316.55 456.85C323.75 461.54 330.94 466.34 338.13 468.44C345.32 470.53 352.51 469.31 359.71 469.42C366.9 469.54 374.09 469.82 381.28 469.14C388.47 468.46 395.67 465.96 402.86 465.33C410.05 464.69 417.24 466.18 424.44 465.33C431.63 464.48 442.42 461.09 446.01 460.24" fill="none" stroke="#1a56a6" stroke-width="1.2"/>
<path d="M294.98 433.33V447.33M293.68 433.33H296.28M293.68 447.33H296.28" stroke="#8aa6cc" stroke-width="0.8" fill="none"/>
<path d="M338.13 458.98V482.98M336.83 458.98H339.43M336.83 482.98H339.43" stroke="#8aa6cc" stroke-width="0.8" fill="none"/>
<path d="M402.86 462.33V468.33M401.56 462.33H404.16M401.56 468.33H404.16" stroke="#8aa6cc" stroke-width="0.8" fill="none"/>
<path d="M446.01 457.24V463.24M444.71 457.24H447.31M444.71 463.24H447.31" stroke="#8aa6cc" stroke-width="0.8" fill="none"/>
<circle cx="294.98" cy="440.33" r="2" fill="#1a56a6"/>
<circle cx="316.55" cy="456.85" r="2" fill="#1a56a6"/>
<circle cx="338.13" cy="470.98" r="2" fill="#1a56a6"/>
<circle cx="359.71" cy="469.42" r="2" fill="#1a56a6"/>
<circle cx="381.28" cy="469.14" r="2" fill="#1a56a6"/>
<circle cx="402.86" cy="465.33" r="2" fill="#1a56a6"/>
<circle cx="424.44" cy="465.33" r="2" fill="#1a56a6"/>
<circle cx="446.01" cy="460.24" r="2" fill="#1a56a6"/>
<path d="M294.98 440.33C298.57 442.78 309.36 450.92 316.55 455.02C323.75 459.11 330.94 461.37 338.13 464.9C345.32 468.44 352.51 474.79 359.71 476.2C366.9 477.62 374.09 474.44 381.28 473.38C388.47 472.32 395.67 469.21 402.86 469.85C410.05 470.48 417.24 478.49 424.44 477.19C431.63 475.9 442.42 464.6 446.01 462.08" fill="none" stroke="#fbb40c" stroke-width="1.2"/>
<path d="M446.01 458.09V464.09M444.71 458.09H447.31M444.71 464.09H447.31" stroke="#f7d67a" stroke-width="0.8" fill="none"/>
<path d="M294.98 437.93L297.26 441.77L292.7 441.77Z" fill="#fbb40c"/>
<path d="M316.55 452.62L318.83 456.46L314.27 456.46Z" fill="#fbb40c"/>
<path d="M338.13 461.09L340.41 464.93L335.85 464.93Z" fill="#fbb40c"/>
<path d="M359.71 477.33L361.99 481.17L357.43 481.17Z" fill="#fbb40c"/>
<path d="M381.28 470.27L383.56 474.11L379 474.11Z" fill="#fbb40c"/>
<path d="M402.86 463.92L405.14 467.76L400.58 467.76Z" fill="#fbb40c"/>
<path d="M424.44 481.15L426.72 484.99L422.16 484.99Z" fill="#fbb40c"/>
<path d="M446.01 458.69L448.29 462.53L443.73 462.53Z" fill="#fbb40c"/>
<path d="M294.98 429.6C298.57 433.6 309.36 448.43 316.55 453.61C323.75 458.78 330.94 459.61 338.13 460.67C345.32 461.73 352.51 461.3 359.71 459.96C366.9 458.62 374.09 455.91 381.28 452.62C388.47 449.32 395.67 443.22 402.86 440.19C410.05 437.15 417.24 438.47 424.44 434.4C431.63 430.32 442.42 418.86 446.01 415.75" fill="none" stroke="#19b064" stroke-width="1.2"/>
<path d="M294.98 432L297.26 428.16L292.7 428.16Z" fill="#19b064"/>
<path d="M316.55 456.43L318.83 452.59L314.27 452.59Z" fill="#19b064"/>
<path d="M338.13 463.77L340.41 459.93L335.85 459.93Z" fill="#19b064"/>
<path d="M359.71 462.36L361.99 458.52L357.43 458.52Z" fill="#19b064"/>
<path d="M381.28 455.02L383.56 451.18L379 451.18Z" fill="#19b064"/>
<path d="M402.86 442.59L405.14 438.75L400.58 438.75Z" fill="#19b064"/>
<path d="M424.44 436.8L426.72 432.96L422.16 432.96Z" fill="#19b064"/>
<path d="M446.01 418.15L448.29 414.31L443.73 414.31Z" fill="#19b064"/>
<path d="M294.98 440.33C298.57 444.54 310.62 456.57 316.55 465.61C322.49 474.65 326.62 488.33 330.58 494.56C334.53 500.8 337.23 501.04 340.29 503.04C343.34 505.04 345.68 505.86 348.92 506.57C352.15 507.28 357.91 507.16 359.71 507.28" fill="none" stroke="#48469c" stroke-width="1.2"/>
<path d="M294.98 437.93L297.38 440.33L294.98 442.73L292.58 440.33Z" fill="#48469c"/>
<path d="M316.55 463.21L318.95 465.61L316.55 468.01L314.15 465.61Z" fill="#48469c"/>
<path d="M338.13 504.88L340.53 507.28L338.13 509.68L335.73 507.28Z" fill="#48469c"/>
<path d="M359.71 504.88L362.11 507.28L359.71 509.68L357.31 507.28Z" fill="#48469c"/>
</g>
<rect x="273.4" y="373.1" width="183.4" height="148.3" fill="none" stroke="#2a2a2a" stroke-width="1.15"/>
<line x1="273.4" y1="521.4" x2="273.4" y2="524.4" stroke="#2a2a2a" stroke-width="1"/>
<text transform="translate(273.4 531.6) scale(0.97 1)" font-family='"Liberation Serif", serif' font-size="6.6" font-weight="bold" text-anchor="middle" stroke="#000" stroke-width="0.15" >0</text>
<line x1="327.34" y1="521.4" x2="327.34" y2="524.4" stroke="#2a2a2a" stroke-width="1"/>
<text transform="translate(327.34 531.6) scale(0.97 1)" font-family='"Liberation Serif", serif' font-size="6.6" font-weight="bold" text-anchor="middle" stroke="#000" stroke-width="0.15" >5</text>
<line x1="381.28" y1="521.4" x2="381.28" y2="524.4" stroke="#2a2a2a" stroke-width="1"/>
<text transform="translate(381.28 531.6) scale(0.97 1)" font-family='"Liberation Serif", serif' font-size="6.6" font-weight="bold" text-anchor="middle" stroke="#000" stroke-width="0.15" >10</text>
<line x1="435.22" y1="521.4" x2="435.22" y2="524.4" stroke="#2a2a2a" stroke-width="1"/>
<text transform="translate(435.22 531.6) scale(0.97 1)" font-family='"Liberation Serif", serif' font-size="6.6" font-weight="bold" text-anchor="middle" stroke="#000" stroke-width="0.15" >15</text>
<line x1="300.37" y1="521.4" x2="300.37" y2="523.2" stroke="#2a2a2a" stroke-width="1"/>
<line x1="354.31" y1="521.4" x2="354.31" y2="523.2" stroke="#2a2a2a" stroke-width="1"/>
<line x1="408.25" y1="521.4" x2="408.25" y2="523.2" stroke="#2a2a2a" stroke-width="1"/>
<line x1="270.4" y1="507.28" x2="273.4" y2="507.28" stroke="#2a2a2a" stroke-width="1"/>
<text transform="translate(268.4 509.28) scale(0.97 1)" font-family='"Liberation Serif", serif' font-size="6.6" font-weight="bold" text-anchor="end" stroke="#000" stroke-width="0.15" >0.0</text>
<line x1="270.4" y1="436.66" x2="273.4" y2="436.66" stroke="#2a2a2a" stroke-width="1"/>
<text transform="translate(268.4 438.66) scale(0.97 1)" font-family='"Liberation Serif", serif' font-size="6.6" font-weight="bold" text-anchor="end" stroke="#000" stroke-width="0.15" >0.5</text>
<line x1="271.6" y1="471.97" x2="273.4" y2="471.97" stroke="#2a2a2a" stroke-width="1"/>
<line x1="271.6" y1="401.35" x2="273.4" y2="401.35" stroke="#2a2a2a" stroke-width="1"/>
<text x="365.1" y="543.7" font-family='"Liberation Serif", serif' font-size="7.7" font-weight="bold" text-anchor="middle" stroke="#000" stroke-width="0.25" >Culture Day</text>
<text transform="translate(257.6 447.25) rotate(-90)" font-family='"Liberation Serif", serif' font-size="7.7" font-weight="bold" stroke="#000" stroke-width="0.3" text-anchor="middle">Fv/Fm</text>
<text x="247.6" y="367.2" font-family='"Liberation Sans", sans-serif' font-size="16.0" font-weight="bold" text-anchor="start" stroke="#000" stroke-width="0.35" >F</text>
<line x1="279" y1="379.6" x2="295.1" y2="379.6" stroke="#f00d0d" stroke-width="1.3" stroke-opacity="0.85"/>
<circle cx="287.05" cy="379.6" r="2.2" fill="#f00d0d"/>
<text transform="translate(297.2 381.9) scale(0.98 1)" font-family='"Liberation Serif", serif' font-size="7.1" font-weight="bold" text-anchor="start" stroke="#000" stroke-width="0.28" >NaNO<tspan font-size="5.2" dx="0.2" dy="1.9">3</tspan></text>
<line x1="279" y1="390.2" x2="295.1" y2="390.2" stroke="#1a56a6" stroke-width="1.3" stroke-opacity="0.85"/>
<circle cx="287.05" cy="390.2" r="2" fill="#1a56a6"/>
<text transform="translate(297.2 392.5) scale(0.98 1)" font-family='"Liberation Serif", serif' font-size="7.1" font-weight="bold" text-anchor="start" stroke="#000" stroke-width="0.28" >NH<tspan font-size="5.2" dx="0.2" dy="1.9">4</tspan><tspan dy="-1.9">Cl</tspan></text>
<line x1="279" y1="400.3" x2="295.1" y2="400.3" stroke="#fbb40c" stroke-width="1.3" stroke-opacity="0.85"/>
<path d="M287.05 397.9L289.33 401.74L284.77 401.74Z" fill="#fbb40c"/>
<text transform="translate(297.2 402.6) scale(0.98 1)" font-family='"Liberation Serif", serif' font-size="7.1" font-weight="bold" text-anchor="start" stroke="#000" stroke-width="0.28" >Urea</text>
<line x1="279" y1="409.4" x2="295.1" y2="409.4" stroke="#19b064" stroke-width="1.3" stroke-opacity="0.85"/>
<path d="M287.05 411.8L289.33 407.96L284.77 407.96Z" fill="#19b064"/>
<text transform="translate(297.2 411.7) scale(0.98 1)" font-family='"Liberation Serif", serif' font-size="7.1" font-weight="bold" text-anchor="start" stroke="#000" stroke-width="0.28" >L-Ala</text>
<line x1="279" y1="418.1" x2="295.1" y2="418.1" stroke="#48469c" stroke-width="1.3" stroke-opacity="0.85"/>
<path d="M287.05 415.7L289.45 418.1L287.05 420.5L284.65 418.1Z" fill="#48469c"/>
<text transform="translate(297.2 420.4) scale(0.98 1)" font-family='"Liberation Serif", serif' font-size="7.1" font-weight="bold" text-anchor="start" stroke="#000" stroke-width="0.28" >L-Pro</text>
</svg></div></body></html>
